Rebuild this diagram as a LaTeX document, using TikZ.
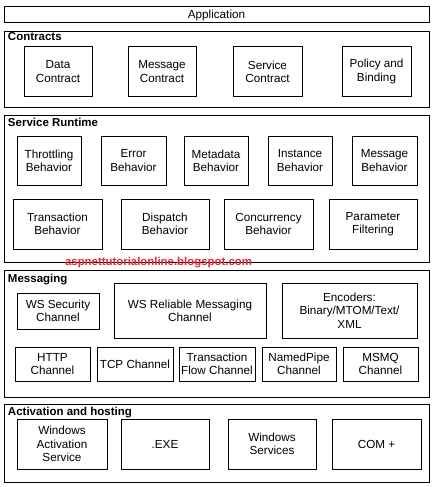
\documentclass[tikz,border=0pt]{standalone}
\usepackage{fontspec}
\setmainfont{Liberation Sans}
\usepackage{xcolor}
\definecolor{markred}{RGB}{232,38,58}

\begin{document}
\begin{tikzpicture}[x=1pt,y=-1pt,line width=1pt,
    every node/.style={font=\fontsize{11.7}{13.3}\selectfont, align=center, inner sep=0pt, outer sep=0pt},
    blk/.style 2 args={draw, rectangle, anchor=north west, minimum width=#1pt, minimum height=#2pt},
    grouptitle/.style={anchor=base west, font=\fontsize{11.5}{13.3}\selectfont\bfseries}]
        \useasboundingbox (0,0) rectangle (435,487);

        % top
        \node[blk={425}{16}] (app) at (4,7) {Application};

        % contracts
        \node[blk={425}{75}] (contracts) at (4,32) {};
        \node[grouptitle] (contractsT) at (8,41) {Contracts};
        \node[blk={68}{49}] (datac) at (24,47) {Data\\Contract};
        \node[blk={68}{49}] (msgc) at (128,47) {Message\\Contract};
        \node[blk={69}{49}] (svcc) at (233,47) {Service\\Contract};
        \node[blk={69}{49}] (policy) at (342,47) {Policy and\\Binding};

        % service runtime
        \node[blk={425}{147}] (runtime) at (4,115) {};
        \node[grouptitle] (runtimeT) at (8,126) {Service Runtime};
        \node[blk={64}{49}] (throttle) at (17,136) {Throttling\\Behavior};
        \node[blk={65}{49}] (error) at (101,136) {Error\\Behavior};
        \node[blk={64}{49}] (meta) at (184,136) {Metadata\\Behavior};
        \node[blk={64}{49}] (inst) at (268,136) {Instance\\Behavior};
        \node[blk={65}{49}] (msgb) at (352,136) {Message\\Behavior};
        \node[blk={89}{50}] (trans) at (13,199) {Transaction\\Behavior};
        \node[blk={88}{50}] (disp) at (121,199) {Dispatch\\Behavior};
        \node[blk={89}{50}] (conc) at (224,199) {Concurrency\\Behavior};
        \node[blk={88}{50}] (param) at (329,199) {Parameter\\Filtering};

        % messaging
        \node[blk={425}{127}] (messaging) at (4,270) {};
        \node[grouptitle] (messagingT) at (8,282) {Messaging};
        \node[blk={82}{36}] (wssec) at (17,293) {WS Security\\Channel};
        \node[blk={152}{55}] (wsrm) at (114,283) {WS Reliable Messaging\\Channel};
        \node[blk={135}{55}] (enc) at (282,283) {Encoders:\\Binary/MTOM/Text/\\XML};
        \node[blk={75}{34}] (http) at (15,347) {HTTP\\Channel};
        \node[blk={76}{34}] (tcp) at (97,347) {TCP Channel};
        \node[blk={76}{34}] (tflow) at (179,347) {Transaction\\Flow Channel};
        \node[blk={74}{34}] (pipe) at (262,347) {NamedPipe\\Channel};
        \node[blk={75}{34}] (msmq) at (343,347) {MSMQ\\Channel};

        % activation and hosting
        \node[blk={425}{78}] (hosting) at (4,404) {};
        \node[grouptitle] (hostingT) at (8,415) {Activation and hosting};
        \node[blk={90}{50}] (was) at (17,419) {Windows\\Activation\\Service};
        \node[blk={88}{50}] (exe) at (121,419) {.EXE};
        \node[blk={88}{50}] (winsvc) at (228,419) {Windows\\Services};
        \node[blk={89}{50}] (com) at (332,419) {COM +};

        % watermark
        \node[anchor=base, text=markred, font=\fontsize{11.4}{13}\selectfont\bfseries] (mark) at (158.5,265.5) {aspnettutorialonline.blogspot.com};
    \end{tikzpicture}
\end{document}
